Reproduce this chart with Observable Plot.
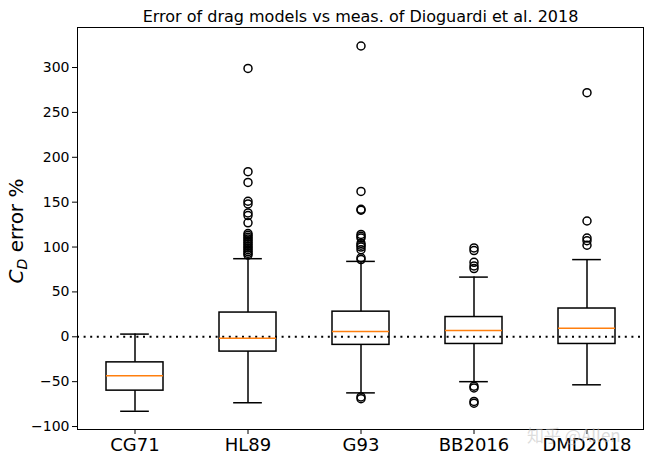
<!DOCTYPE html>
<html>
<head>
<meta charset="utf-8">
<script src="https://cdn.jsdelivr.net/npm/d3@7"></script>
<script src="https://cdn.jsdelivr.net/npm/@observablehq/plot@0.6"></script>
<style>
  html, body { margin: 0; padding: 0; background: #fff; }
  #chart { position: relative; width: 653px; height: 462px; }
  .wm { position: absolute; left: 527px; top: 422px; font-family: "Noto Sans CJK SC", "DejaVu Sans", sans-serif; font-size: 17px; color: rgba(190,190,190,0.55); pointer-events: none; }
</style>
</head>
<body>
<div id="chart"></div>
<script>
// ---- data ----
const categories = ["CG71", "HL89", "G93", "BB2016", "DMD2018"];
const q1         = [-60, -16.5, -9, -8, -8];
const median     = [-43.5, -1.5, 6, 7, 9.5];
const q3         = [-28.5, 27, 28, 22, 31.5];
const whiskerLo  = [-83, -73.5, -62.5, -50, -53.5];
const whiskerHi  = [3, 87, 84, 66.5, 86];
const outliers = [
  [],
  [299, 184, 172, 151, 148, 138, 135, 127, 115, 113, 111, 109, 107, 105, 103, 101, 99, 97, 95, 93, 91],
  [324, 162, 142, 141, 114, 112, 110, 104, 102, 100, 97, 88, 86, -67, -69],
  [99, 96, 83, 79, 76, -55, -57, -72, -74],
  [272, 129, 110, 107, 102]
];
const yTicks = [-100, -50, 0, 50, 100, 150, 200, 250, 300];
const title = "Error of drag models vs meas. of Dioguardi et al. 2018";

// ---- tables for the library ----
const boxes = categories.map((c, i) => ({
  cat: c, q1: q1[i], med: median[i], q3: q3[i], lo: whiskerLo[i], hi: whiskerHi[i]
}));
const pts = categories.flatMap((c, i) => outliers[i].map(v => ({cat: c, v})));

const W = 653, H = 462;
const mL = 77, mR = 10, mT = 27, mB = 33;
const step = (W - mL - mR) / categories.length;
const capInset = step * 0.5 / 4;

const fmt = d => d < 0 ? "\u2212" + (-d) : String(d);

const chart = Plot.plot({
  width: W, height: H,
  marginLeft: mL, marginRight: mR, marginTop: mT, marginBottom: mB,
  style: { fontFamily: "DejaVu Sans, sans-serif", color: "black", background: "white" },
  x: { domain: categories, paddingInner: 0.5, paddingOuter: 0.25, label: null },
  y: { domain: [-103.3, 344.6], label: null },
  marks: [
    Plot.ruleY([0], { stroke: "black", strokeWidth: 2, strokeDasharray: "2,4.6" }),
    Plot.ruleX(boxes, { x: "cat", y1: "lo", y2: "q1", stroke: "black", strokeWidth: 1.5 }),
    Plot.ruleX(boxes, { x: "cat", y1: "q3", y2: "hi", stroke: "black", strokeWidth: 1.5 }),
    Plot.tickY(boxes, { x: "cat", y: "lo", stroke: "black", strokeWidth: 1.5, insetLeft: capInset, insetRight: capInset }),
    Plot.tickY(boxes, { x: "cat", y: "hi", stroke: "black", strokeWidth: 1.5, insetLeft: capInset, insetRight: capInset }),
    Plot.barY(boxes, { x: "cat", y1: "q1", y2: "q3", fill: "none", stroke: "black", strokeWidth: 1.5 }),
    Plot.tickY(boxes, { x: "cat", y: "med", stroke: "#ff7f0e", strokeWidth: 1.5 }),
    Plot.dot(pts, { x: "cat", y: "v", r: 4, stroke: "black", strokeWidth: 1.5, fill: "none" }),
    Plot.frame({ stroke: "black", strokeWidth: 1 }),
    Plot.axisX({ fontSize: 18, tickSize: 5, tickPadding: 4, label: null }),
    Plot.axisY({ ticks: yTicks, tickFormat: fmt, fontSize: 14, tickSize: 5, tickPadding: 3, label: null }),
    Plot.text([title], { frameAnchor: "top", dy: -17, fontSize: 16, fill: "black" })
  ]
});

document.getElementById("chart").appendChild(chart);

// y-axis label with italic C and subscript D
const svg = d3.select(chart);
const lab = svg.append("text")
  .attr("transform", `translate(23,231) rotate(-90)`)
  .attr("text-anchor", "middle")
  .attr("font-family", "DejaVu Sans, sans-serif")
  .attr("font-size", 20)
  .attr("fill", "black");
lab.append("tspan").attr("font-style", "italic").text("C");
lab.append("tspan").attr("font-style", "italic").attr("font-size", 14).attr("dy", 4).text("D");
lab.append("tspan").attr("dy", -4).text(" error %");

const wm = document.createElement("div");
wm.className = "wm";
wm.textContent = "知乎 @Allen";
document.getElementById("chart").appendChild(wm);
</script>
</body>
</html>
